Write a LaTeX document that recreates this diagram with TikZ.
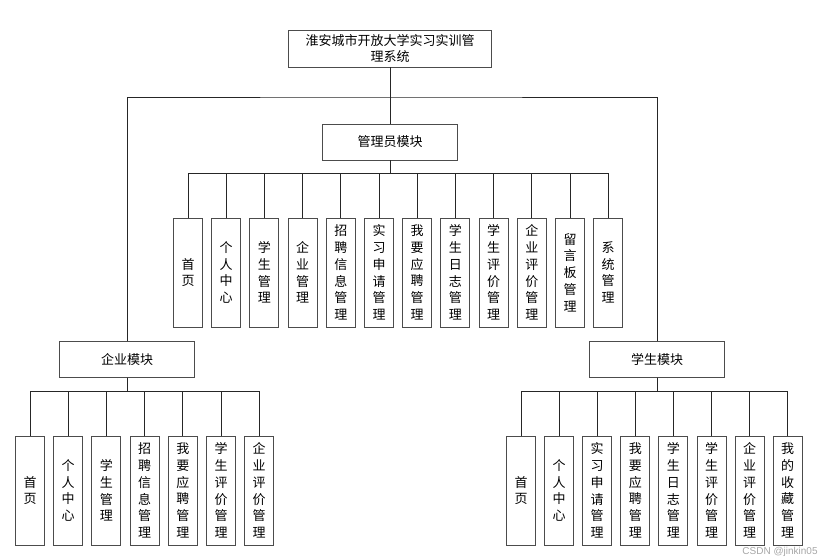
\documentclass[tikz,border=0pt]{standalone}
\usepackage{fontspec}
\setmainfont{Noto Sans CJK SC}
\newfontfamily\wmfont{Liberation Sans}

\tikzset{
  box/.style={draw=black!70, fill=white, line width=0.9pt, inner sep=0pt,
    font=\fontsize{13}{16.7}\selectfont},
  modbox/.style={box, minimum width=135pt, minimum height=36pt},
  leaf/.style={box, minimum width=29pt, minimum height=109pt, align=center},
  link/.style={draw=black!85, line width=0.9pt}
}

\begin{document}
\begin{tikzpicture}
  [x=1pt,y=-1pt]
  \useasboundingbox (0,0) rectangle (840,559);

  \node[box, minimum width=203pt, minimum height=37pt, align=center] (root) at (390,48.5)
    {淮安城市开放大学实习实训管\\理系统};
  \coordinate (split) at (390,97);

  \node[modbox] (admin) at (390,142) {管理员模块};
  \node[modbox] (ent) at (127,359.5) {企业模块};
  \node[modbox] (stu) at (657,359.5) {学生模块};

  \draw[link] (root.south) -- (admin.north);
  \draw[link] (ent.north) |- (split) -| (stu.north);

  % admin module
  \foreach \t [count=\i] in {{首\\页},{个\\人\\中\\心},{学\\生\\管\\理},{企\\业\\管\\理},
      {招\\聘\\信\\息\\管\\理},{实\\习\\申\\请\\管\\理},{我\\要\\应\\聘\\管\\理},
      {学\\生\\日\\志\\管\\理},{学\\生\\评\\价\\管\\理},{企\\业\\评\\价\\管\\理},
      {留\\言\\板\\管\\理},{系\\统\\管\\理}}
  {
    \node[leaf] (a\i) at ({188+38.2*(\i-1)},272.5) {\t};
    \draw[link] (admin.south) -- ++(0,13) -| (a\i.north);
  }

  % enterprise module
  \foreach \t [count=\i] in {{首\\页},{个\\人\\中\\心},{学\\生\\管\\理},
      {招\\聘\\信\\息\\管\\理},{我\\要\\应\\聘\\管\\理},{学\\生\\评\\价\\管\\理},
      {企\\业\\评\\价\\管\\理}}
  {
    \node[leaf] (e\i) at ({30+38.2*(\i-1)},490.5) {\t};
    \draw[link] (ent.south) -- ++(0,13.5) -| (e\i.north);
  }

  % student module
  \foreach \t [count=\i] in {{首\\页},{个\\人\\中\\心},{实\\习\\申\\请\\管\\理},
      {我\\要\\应\\聘\\管\\理},{学\\生\\日\\志\\管\\理},{学\\生\\评\\价\\管\\理},
      {企\\业\\评\\价\\管\\理},{我\\的\\收\\藏\\管\\理}}
  {
    \node[leaf] (s\i) at ({521+38.1*(\i-1)},490.5) {\t};
    \draw[link] (stu.south) -- ++(0,13.5) -| (s\i.north);
  }

  \node[text=black!35, font=\wmfont\fontsize{10}{12}\selectfont] (mark) at (780,551.5) {CSDN @jinkin05};
\end{tikzpicture}
\end{document}
